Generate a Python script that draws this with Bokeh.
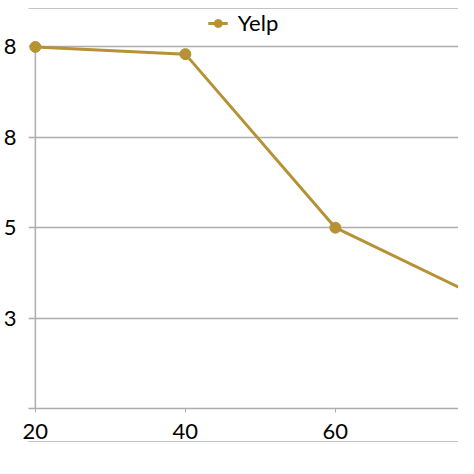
from bokeh.plotting import figure
from bokeh.models import FixedTicker, Range1d, LinearAxis
from bokeh.embed import file_html
from bokeh.resources import INLINE

# ---- data ----
x_values = [20, 40, 60, 80]
yelp = [0.800, 0.798, 0.750, 0.730]
y_ticks = [0.700, 0.725, 0.750, 0.775, 0.800]
# the reference crop only shows the last digit of each y label
y_tick_labels = ["", "3", "5", "8", "8"]
series_name = "Yelp"

LINE_COL = "#B69234"
GRID_COL = "#ADADAD"
BORDER_COL = "#C4C4C4"
FONT = "Lato"
FS = "22px"

W, H = 458, 458
FRAME_LEFT = 26
MB_TOP = 8
MB_BOTTOM = 50
frame_h = H - MB_TOP - MB_BOTTOM
top_px = 38.4                     # pixel of the top tick below frame top
px_per_unit_y = (frame_h - top_px) / (max(y_ticks) - min(y_ticks))
px_per_unit_x = 7.535
x_pad_px = 6.9

x_start = x_values[0] - x_pad_px / px_per_unit_x
x_end = x_start + (W - FRAME_LEFT) / px_per_unit_x
y_start = min(y_ticks)
y_end = max(y_ticks) + top_px / px_per_unit_y

p = figure(width=W, height=H, output_backend="svg", toolbar_location=None,
           x_range=Range1d(x_start, x_end), y_range=Range1d(y_start, y_end),
           min_border_left=FRAME_LEFT, min_border_right=0, min_border_top=MB_TOP,
           min_border_bottom=MB_BOTTOM)
p.outline_line_color = None
p.background_fill_color = "white"
p.border_fill_color = "white"

# grids
p.xgrid.visible = False
p.ygrid.ticker = FixedTicker(ticks=y_ticks)
p.ygrid.grid_line_color = GRID_COL
p.ygrid.grid_line_width = 1.5

# x axis
p.xaxis.ticker = FixedTicker(ticks=x_values)
p.xaxis.axis_line_color = GRID_COL
p.xaxis.axis_line_width = 1.5
p.xaxis.major_tick_line_color = GRID_COL
p.xaxis.major_tick_out = 4
p.xaxis.major_tick_in = 0
p.xaxis.minor_tick_line_color = None
p.xaxis.major_label_standoff = 11
p.xaxis.major_label_text_font = FONT
p.xaxis.major_label_text_font_size = FS
p.xaxis.major_label_text_color = "black"

# y axis
p.yaxis.ticker = FixedTicker(ticks=y_ticks)
p.yaxis.major_label_overrides = {t: l for t, l in zip(y_ticks, y_tick_labels)}
p.yaxis.axis_line_color = None
p.yaxis.major_tick_line_color = None
p.yaxis.minor_tick_line_color = None
p.yaxis.major_tick_out = 0
p.yaxis.major_tick_in = 0
p.yaxis.major_label_standoff = 12
p.yaxis.major_label_text_font = FONT
p.yaxis.major_label_text_font_size = FS
p.yaxis.major_label_text_color = "black"

# chart-area border lines (top and bottom) as bare extra axes
for side in ("above", "below"):
    ax = LinearAxis(ticker=FixedTicker(ticks=[]), axis_line_color=BORDER_COL,
                    axis_line_width=1.2, major_tick_line_color=None,
                    minor_tick_line_color=None, major_label_text_font_size="0px",
                    major_tick_out=0, major_tick_in=0, major_label_standoff=0)
    p.add_layout(ax, side)

# y axis line drawn at the first x value, between bottom and top ticks
p.line([x_values[0], x_values[0]], [min(y_ticks), max(y_ticks)],
       line_color=GRID_COL, line_width=1.5)

# series
p.line(x_values, yelp, line_color=LINE_COL, line_width=3, legend_label=series_name)
p.scatter(x_values, yelp, marker="circle", size=11, fill_color=LINE_COL,
          line_color=LINE_COL, legend_label=series_name)

lg = p.legend[0]
lg.location = "top_center"
lg.border_line_color = None
lg.background_fill_alpha = 0
lg.margin = 1
lg.padding = 0
lg.glyph_width = 20
lg.label_standoff = 10
lg.label_text_font = FONT
lg.label_text_font_size = FS
lg.label_text_color = "black"

open("out.html", "w").write(file_html(p, INLINE))
